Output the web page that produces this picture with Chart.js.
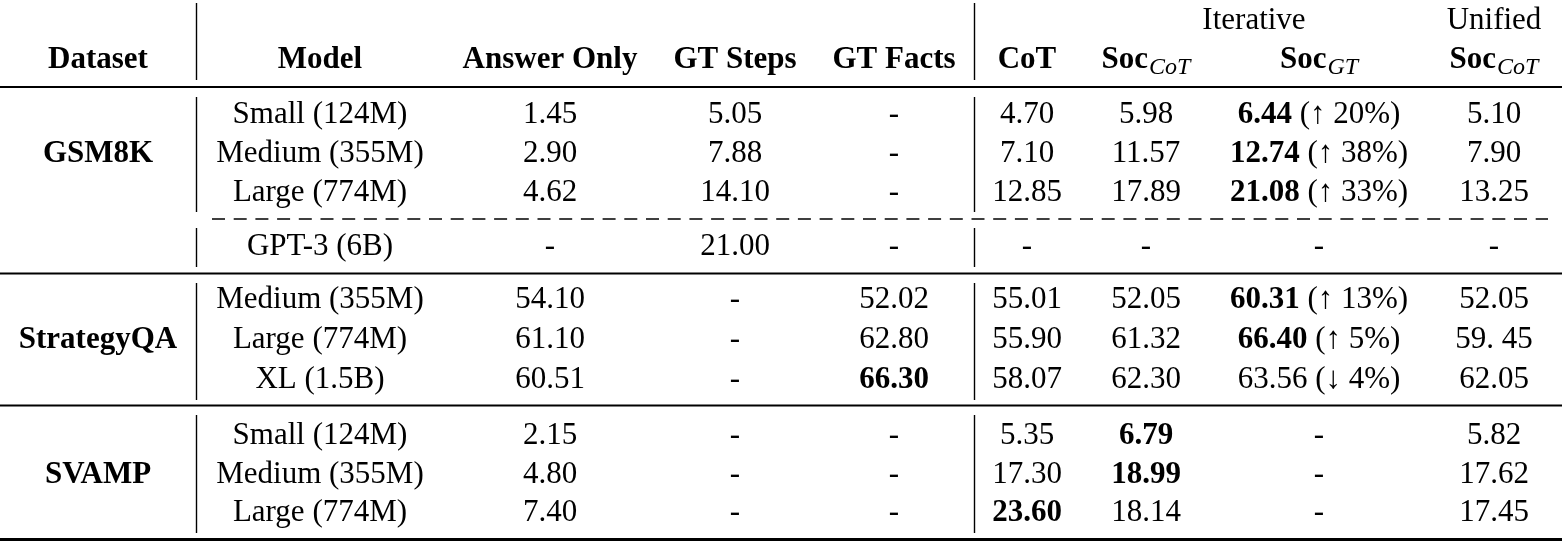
<!DOCTYPE html>
<html>
<head>
<meta charset="utf-8">
<script src="https://cdn.jsdelivr.net/npm/chart.js@4.4.1/dist/chart.umd.min.js"></script>
<style>
  html, body { margin: 0; padding: 0; background: #fff; }
  .wrap { width: 1564px; height: 544px; position: relative; }
</style>
</head>
<body>
<div class="wrap"><canvas id="table"></canvas></div>
<script>
// DATA
const datasetNames = ["GSM8K", "StrategyQA", "SVAMP"];
const datasetLabelRow = [1, 5, 8];
const models = ["Small (124M)", "Medium (355M)", "Large (774M)", "GPT-3 (6B)",
  "Medium (355M)", "Large (774M)", "XL (1.5B)",
  "Small (124M)", "Medium (355M)", "Large (774M)"];
const answerOnly = ["1.45", "2.90", "4.62", "-", "54.10", "61.10", "60.51", "2.15", "4.80", "7.40"];
const gtSteps = ["5.05", "7.88", "14.10", "21.00", "-", "-", "-", "-", "-", "-"];
const gtFacts = ["-", "-", "-", "-", "52.02", "62.80", "66.30", "-", "-", "-"];
const cot = ["4.70", "7.10", "12.85", "-", "55.01", "55.90", "58.07", "5.35", "17.30", "23.60"];
const socCot = ["5.98", "11.57", "17.89", "-", "52.05", "61.32", "62.30", "6.79", "18.99", "18.14"];
const socGt = ["6.44", "12.74", "21.08", "-", "60.31", "66.40", "63.56", "-", "-", "-"];
const socGtChange = ["(↑ 20%)", "(↑ 38%)", "(↑ 33%)", "", "(↑ 13%)", "(↑ 5%)", "(↓ 4%)", "", "", ""];
const unifiedSocCot = ["5.10", "7.90", "13.25", "-", "52.05", "59. 45", "62.05", "5.82", "17.62", "17.45"];

// best results, shown in bold (row indexes)
const boldGtFacts = [6];
const boldCot = [9];
const boldSocCot = [7, 8];
const boldSocGt = [0, 1, 2, 4, 5];

const headers = [
  { text: "Dataset" }, { text: "Model" }, { text: "Answer Only" }, { text: "GT Steps" },
  { text: "GT Facts" }, { text: "CoT" }, { text: "Soc", sub: "CoT" },
  { text: "Soc", sub: "GT" }, { text: "Soc", sub: "CoT" }
];
const groupHeaders = ["Iterative", "Unified"];

// LAYOUT (pixels)
const colX = [98, 320, 550, 735, 894, 1027, 1146, 1319, 1494];
const rowY = [123, 162, 201, 255, 308, 348, 388, 444, 483, 521];
const headY = 68;
const groupY = 29;
const groupX = [1254, 1494];
const ruleY = [87, 273.5, 405.5];
const bottomY = 539.5;
const dashY = 219;
const vLineX = [196.5, 974.5];
const vSegments = [[3, 80], [97, 212], [228, 267], [283, 400], [415, 533]];

const FONT = "'Liberation Serif', 'Times New Roman', serif";
const SIZE = "31px ";

function column(c, values, bold, suffix) {
  return {
    data: values.map((v, r) => ({ x: colX[c], y: rowY[r] })),
    labels: values,
    bold: values.map((v, r) => (bold || []).includes(r)),
    suffix: suffix || values.map(() => ""),
    pointRadius: 0,
    showLine: false
  };
}

const nameColumn = {
  data: datasetNames.map((n, i) => ({ x: colX[0], y: rowY[datasetLabelRow[i]] })),
  labels: datasetNames,
  bold: datasetNames.map(() => true),
  suffix: datasetNames.map(() => ""),
  pointRadius: 0
};

const tableDatasets = [
  nameColumn,
  column(1, models),
  column(2, answerOnly),
  column(3, gtSteps),
  column(4, gtFacts, boldGtFacts),
  column(5, cot, boldCot),
  column(6, socCot, boldSocCot),
  column(7, socGt, boldSocGt, socGtChange),
  column(8, unifiedSocCot)
];

function drawPieces(ctx, cx, y, pieces) {
  let total = 0;
  pieces.forEach(p => { ctx.font = p.font; p.w = ctx.measureText(p.text).width; total += p.w + (p.gap || 0); });
  let x = cx - total / 2;
  pieces.forEach(p => {
    ctx.font = p.font;
    ctx.fillText(p.text, x, y + (p.dy || 0));
    x += p.w + (p.gap || 0);
  });
}

const tablePlugin = {
  id: "tableText",
  afterDatasetsDraw(chart) {
    const ctx = chart.ctx;
    const xs = chart.scales.x;
    const ys = chart.scales.y;
    ctx.save();
    ctx.fillStyle = "#000";
    ctx.strokeStyle = "#000";
    ctx.textBaseline = "alphabetic";
    ctx.textAlign = "left";

    // group headers
    groupHeaders.forEach((g, i) => {
      drawPieces(ctx, xs.getPixelForValue(groupX[i]), ys.getPixelForValue(groupY),
        [{ text: g, font: SIZE + FONT }]);
    });

    // column headers
    headers.forEach((h, c) => {
      const pieces = [{ text: h.text, font: "bold " + SIZE + FONT, gap: h.sub ? 1 : 0 }];
      if (h.sub) pieces.push({ text: h.sub, font: "italic 24px " + FONT, dy: 6 });
      drawPieces(ctx, xs.getPixelForValue(colX[c]), ys.getPixelForValue(headY), pieces);
    });

    // cells
    chart.data.datasets.forEach((ds, d) => {
      const meta = chart.getDatasetMeta(d);
      meta.data.forEach((el, i) => {
        const pieces = [{ text: ds.labels[i], font: (ds.bold[i] ? "bold " : "") + SIZE + FONT }];
        if (ds.suffix[i]) pieces.push({ text: " " + ds.suffix[i], font: SIZE + FONT });
        drawPieces(ctx, el.x, el.y, pieces);
      });
    });

    // horizontal rules
    const left = xs.getPixelForValue(0);
    const right = xs.getPixelForValue(1562);
    ctx.lineWidth = 1.8;
    ruleY.forEach(y => {
      const py = ys.getPixelForValue(y);
      ctx.beginPath(); ctx.moveTo(left, py); ctx.lineTo(right, py); ctx.stroke();
    });
    ctx.lineWidth = 2.8;
    ctx.beginPath();
    ctx.moveTo(left, ys.getPixelForValue(bottomY));
    ctx.lineTo(right, ys.getPixelForValue(bottomY));
    ctx.stroke();

    // dashed separator before GPT-3
    ctx.lineWidth = 1.4;
    ctx.setLineDash([13, 8.7]);
    ctx.beginPath();
    ctx.moveTo(xs.getPixelForValue(212), ys.getPixelForValue(dashY));
    ctx.lineTo(xs.getPixelForValue(1548), ys.getPixelForValue(dashY));
    ctx.stroke();
    ctx.setLineDash([]);

    // vertical rules
    ctx.lineWidth = 1.4;
    vLineX.forEach(x => {
      const px = xs.getPixelForValue(x);
      vSegments.forEach(([a, b]) => {
        ctx.beginPath();
        ctx.moveTo(px, ys.getPixelForValue(a));
        ctx.lineTo(px, ys.getPixelForValue(b));
        ctx.stroke();
      });
    });
    ctx.restore();
  }
};

const ctx = document.getElementById("table").getContext("2d");

new Chart(ctx, {
  type: "scatter",
  data: { datasets: tableDatasets },
  options: {
    responsive: true,
    maintainAspectRatio: false,
    animation: false,
    layout: { padding: 0 },
    events: [],
    plugins: {
      legend: { display: false },
      tooltip: { enabled: false }
    },
    scales: {
      x: { type: "linear", min: 0, max: 1564, display: false },
      y: { type: "linear", min: 0, max: 544, reverse: true, display: false }
    }
  },
  plugins: [tablePlugin]
});
</script>
</body>
</html>
